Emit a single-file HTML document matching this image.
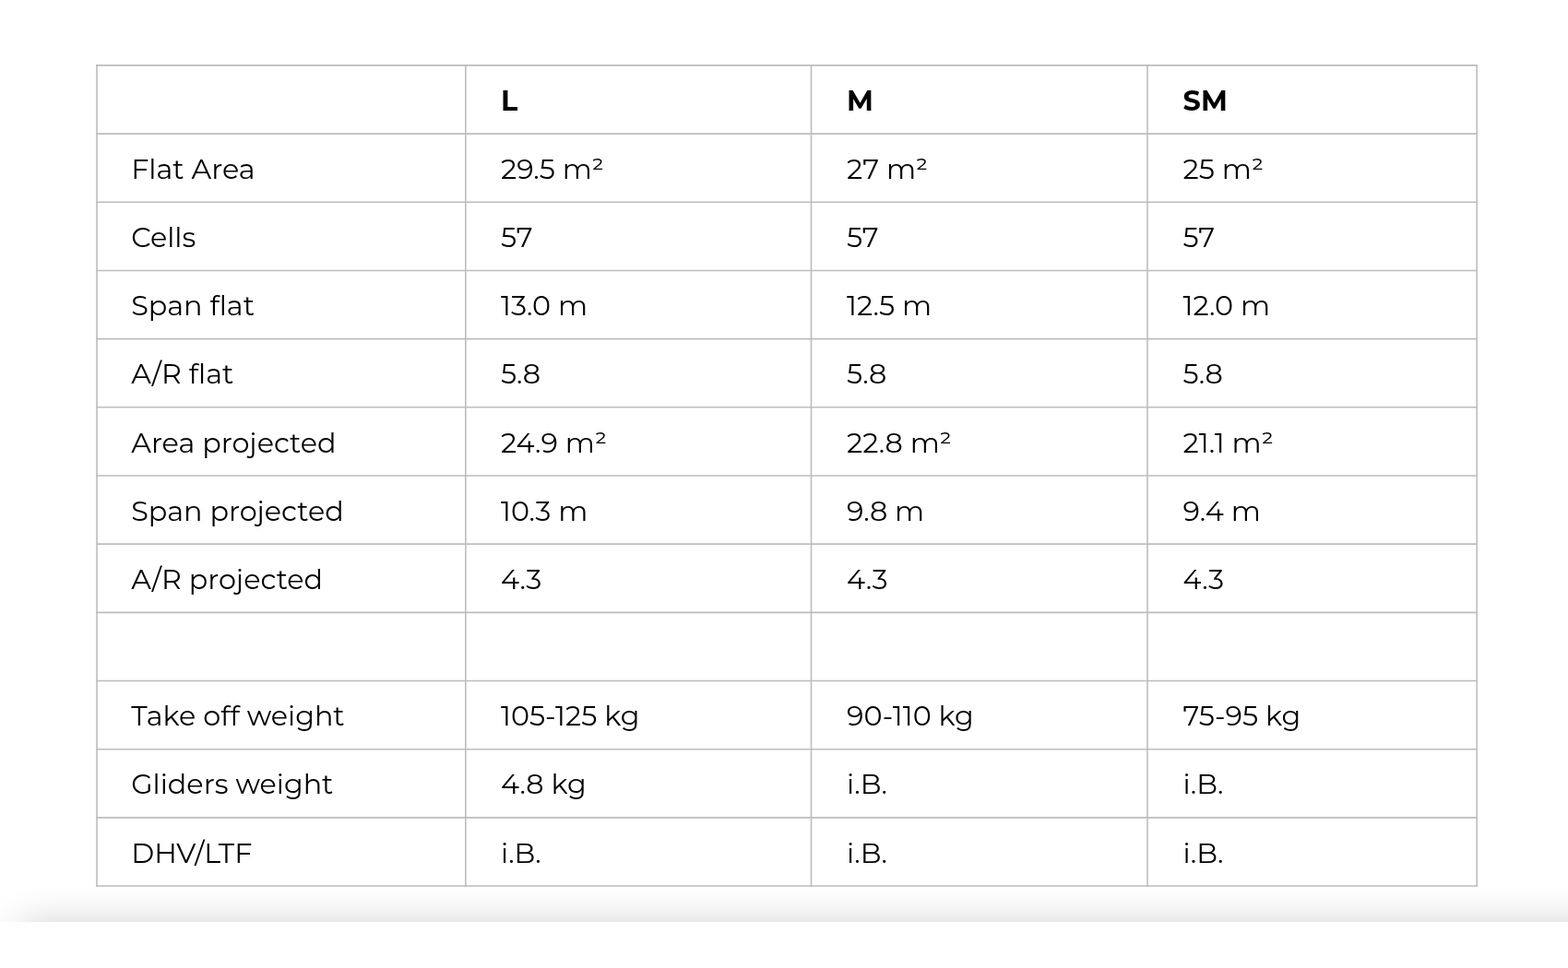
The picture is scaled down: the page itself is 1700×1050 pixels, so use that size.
<!DOCTYPE html>
<html lang="en"><head><meta charset="utf-8"><title>Glider sizes</title>
<style>
html,body{margin:0;padding:0;background:#fff;}
body{width:1700px;height:1050px;position:relative;overflow:hidden;font-family:"Montserrat","DejaVu Sans","Liberation Sans",sans-serif;}
.grid{position:absolute;left:0;top:0;}
.grid line{stroke:#bdbdbd;stroke-width:1.6;}
.d,.h{position:absolute;white-space:pre;font-size:30.25px;line-height:0;color:#000;transform-origin:0 0;font-weight:400;}
.h{font-weight:700;color:#000;}
#c0_1{left:543.0px;top:109.6px}
#c0_2{left:918.1px;top:109.6px}
#c0_3{left:1282.6px;top:109.6px}
#c1_0{left:142.2px;top:183.78px}
#c1_1{left:543.0px;top:183.78px}
#c1_2{left:918.1px;top:183.78px}
#c1_3{left:1282.6px;top:183.78px}
#c2_0{left:142.2px;top:257.96px}
#c2_1{left:543.0px;top:257.96px}
#c2_2{left:918.1px;top:257.96px}
#c2_3{left:1282.6px;top:257.96px}
#c3_0{left:142.2px;top:332.14px}
#c3_1{left:543.0px;top:332.14px}
#c3_2{left:918.1px;top:332.14px}
#c3_3{left:1282.6px;top:332.14px}
#c4_0{left:142.2px;top:406.32px}
#c4_1{left:543.0px;top:406.32px}
#c4_2{left:918.1px;top:406.32px}
#c4_3{left:1282.6px;top:406.32px}
#c5_0{left:142.2px;top:480.5px}
#c5_1{left:543.0px;top:480.5px}
#c5_2{left:918.1px;top:480.5px}
#c5_3{left:1282.6px;top:480.5px}
#c6_0{left:142.2px;top:554.68px}
#c6_1{left:543.0px;top:554.68px}
#c6_2{left:918.1px;top:554.68px}
#c6_3{left:1282.6px;top:554.68px}
#c7_0{left:142.2px;top:628.86px}
#c7_1{left:543.0px;top:628.86px}
#c7_2{left:918.1px;top:628.86px}
#c7_3{left:1282.6px;top:628.86px}
#c9_0{left:142.2px;top:777.22px}
#c9_1{left:543.0px;top:777.22px}
#c9_2{left:918.1px;top:777.22px}
#c9_3{left:1282.6px;top:777.22px}
#c10_0{left:142.2px;top:851.4px}
#c10_1{left:543.0px;top:851.4px}
#c10_2{left:918.1px;top:851.4px}
#c10_3{left:1282.6px;top:851.4px}
#c11_0{left:142.2px;top:925.58px}
#c11_1{left:543.0px;top:925.58px}
#c11_2{left:918.1px;top:925.58px}
#c11_3{left:1282.6px;top:925.58px}
.fb .d,.fb .h{font-family:"DejaVu Sans","Liberation Sans",sans-serif;font-size:29.5px;color:#111;}
.fb .d{-webkit-text-stroke:0.4px #fff;}
.fb .h{font-weight:bold;color:#000;-webkit-text-stroke:0.5px #fff;}
.fb .n{font-family:"Liberation Sans",sans-serif;font-size:30.5px;}
.fb #c0_1{left:542.4px;top:109.6px;transform:scaleX(1.0685)}
.fb #c0_2{left:917.1px;top:109.6px;transform:scaleX(1.0438)}
.fb #c0_3{left:1281.6px;top:109.6px;transform:scaleX(0.9788)}
.fb #c1_0{left:142.6px;top:183.78px;transform:scaleX(1.0236)}
.fb #c1_1{left:542.4px;top:182.78px;transform:scaleX(1.0933)}
.fb #c1_2{left:916.3px;top:182.78px;transform:scaleX(1.1378)}
.fb #c1_3{left:1280.9px;top:182.78px;transform:scaleX(1.1311)}
.fb #c2_0{left:141.6px;top:257.96px;transform:scaleX(1.0448)}
.fb #c2_1{left:542.4px;top:256.96px;transform:scaleX(1.074)}
.fb #c2_2{left:916.3px;top:256.96px;transform:scaleX(1.0783)}
.fb #c2_3{left:1280.9px;top:256.96px;transform:scaleX(1.0769)}
.fb #c3_0{left:141.6px;top:332.14px;transform:scaleX(1.0154)}
.fb #c3_1{left:542.4px;top:331.14px;transform:scaleX(1.0233)}
.fb #c3_2{left:917.2px;top:331.14px;transform:scaleX(0.9878)}
.fb #c3_3{left:1281.9px;top:331.14px;transform:scaleX(1.0247)}
.fb #c4_0{left:142.6px;top:406.32px;transform:scaleX(1.028)}
.fb #c4_1{left:542.4px;top:405.32px;transform:scaleX(1.0413)}
.fb #c4_2{left:916.9px;top:405.32px;transform:scaleX(1.0313)}
.fb #c4_3{left:1281.8px;top:405.32px;transform:scaleX(1.0472)}
.fb #c5_0{left:141.6px;top:480.5px;transform:scaleX(1.0327)}
.fb #c5_1{left:542.4px;top:479.5px;transform:scaleX(1.1136)}
.fb #c5_2{left:916.3px;top:479.5px;transform:scaleX(1.1082)}
.fb #c5_3{left:1281.8px;top:479.5px;transform:scaleX(0.9482)}
.fb #c6_0{left:141.6px;top:554.68px;transform:scaleX(1.0456)}
.fb #c6_1{left:543.4px;top:553.68px;transform:scaleX(1.0118)}
.fb #c6_2{left:916.9px;top:553.68px;transform:scaleX(1.1004)}
.fb #c6_3{left:1281.6px;top:553.68px;transform:scaleX(1.1117)}
.fb #c7_0{left:141.6px;top:628.86px;transform:scaleX(1.0511)}
.fb #c7_1{left:543.6px;top:627.86px;transform:scaleX(1.0454)}
.fb #c7_2{left:918.1px;top:627.86px;transform:scaleX(1.0568)}
.fb #c7_3{left:1282.6px;top:627.86px;transform:scaleX(1.0555)}
.fb #c9_0{left:143.6px;top:777.22px;transform:scaleX(1.0405)}
.fb #c9_1{left:542.4px;top:776.22px;transform:scaleX(0.9919)}
.fb #c9_2{left:916.3px;top:776.22px;transform:scaleX(1.0438)}
.fb #c9_3{left:1281.8px;top:776.22px;transform:scaleX(1.0862)}
.fb #c10_0{left:141.6px;top:851.4px;transform:scaleX(1.0332)}
.fb #c10_1{left:543.6px;top:850.4px;transform:scaleX(1.1242)}
.fb #c10_2{left:918.1px;top:850.4px;transform:scaleX(1.0256)}
.fb #c10_3{left:1282.6px;top:850.4px;transform:scaleX(1.0256)}
.fb #c11_0{left:141.6px;top:925.58px;transform:scaleX(1.0847)}
.fb #c11_1{left:543.2px;top:924.58px;transform:scaleX(1.0312)}
.fb #c11_2{left:918.1px;top:924.58px;transform:scaleX(1.0256)}
.fb #c11_3{left:1282.6px;top:924.58px;transform:scaleX(1.0256)}
.clip{position:absolute;left:0;top:900px;width:1700px;height:100px;overflow:hidden;}
.shade{position:absolute;left:22px;top:100px;width:2000px;height:120px;background:#fff;box-shadow:0 0 40px 0px rgba(0,0,0,0.18);}
</style></head><body>
<svg class="grid" width="1700" height="1050" viewBox="0 0 1700 1050">
<line x1="105.0" y1="70.1" x2="105.0" y2="961.86"/>
<line x1="504.8" y1="70.1" x2="504.8" y2="961.86"/>
<line x1="879.5" y1="70.1" x2="879.5" y2="961.86"/>
<line x1="1244.0" y1="70.1" x2="1244.0" y2="961.86"/>
<line x1="1601.2" y1="70.1" x2="1601.2" y2="961.86"/>
<line x1="104.2" y1="70.9" x2="1602.0" y2="70.9"/>
<line x1="104.2" y1="145.08" x2="1602.0" y2="145.08"/>
<line x1="104.2" y1="219.26" x2="1602.0" y2="219.26"/>
<line x1="104.2" y1="293.44" x2="1602.0" y2="293.44"/>
<line x1="104.2" y1="367.62" x2="1602.0" y2="367.62"/>
<line x1="104.2" y1="441.8" x2="1602.0" y2="441.8"/>
<line x1="104.2" y1="515.98" x2="1602.0" y2="515.98"/>
<line x1="104.2" y1="590.16" x2="1602.0" y2="590.16"/>
<line x1="104.2" y1="664.34" x2="1602.0" y2="664.34"/>
<line x1="104.2" y1="738.52" x2="1602.0" y2="738.52"/>
<line x1="104.2" y1="812.7" x2="1602.0" y2="812.7"/>
<line x1="104.2" y1="886.88" x2="1602.0" y2="886.88"/>
<line x1="104.2" y1="961.06" x2="1602.0" y2="961.06"/>
</svg>
<div id="c0_1" class="h">L</div>
<div id="c0_2" class="h">M</div>
<div id="c0_3" class="h">SM</div>
<div id="c1_0" class="d">Flat Area</div>
<div id="c1_1" class="d n">29.5 m²</div>
<div id="c1_2" class="d n">27 m²</div>
<div id="c1_3" class="d n">25 m²</div>
<div id="c2_0" class="d">Cells</div>
<div id="c2_1" class="d n">57</div>
<div id="c2_2" class="d n">57</div>
<div id="c2_3" class="d n">57</div>
<div id="c3_0" class="d">Span flat</div>
<div id="c3_1" class="d n">13.0 m</div>
<div id="c3_2" class="d n">12.5 m</div>
<div id="c3_3" class="d n">12.0 m</div>
<div id="c4_0" class="d">A/R flat</div>
<div id="c4_1" class="d n">5.8</div>
<div id="c4_2" class="d n">5.8</div>
<div id="c4_3" class="d n">5.8</div>
<div id="c5_0" class="d">Area projected</div>
<div id="c5_1" class="d n">24.9 m²</div>
<div id="c5_2" class="d n">22.8 m²</div>
<div id="c5_3" class="d n">21.1 m²</div>
<div id="c6_0" class="d">Span projected</div>
<div id="c6_1" class="d n">10.3 m</div>
<div id="c6_2" class="d n">9.8 m</div>
<div id="c6_3" class="d n">9.4 m</div>
<div id="c7_0" class="d">A/R projected</div>
<div id="c7_1" class="d n">4.3</div>
<div id="c7_2" class="d n">4.3</div>
<div id="c7_3" class="d n">4.3</div>
<div id="c9_0" class="d">Take off weight</div>
<div id="c9_1" class="d n">105-125 kg</div>
<div id="c9_2" class="d n">90-110 kg</div>
<div id="c9_3" class="d n">75-95 kg</div>
<div id="c10_0" class="d">Gliders weight</div>
<div id="c10_1" class="d n">4.8 kg</div>
<div id="c10_2" class="d n">i.B.</div>
<div id="c10_3" class="d n">i.B.</div>
<div id="c11_0" class="d">DHV/LTF</div>
<div id="c11_1" class="d n">i.B.</div>
<div id="c11_2" class="d n">i.B.</div>
<div id="c11_3" class="d n">i.B.</div>
<div class="clip"><div class="shade"></div></div>
<script>
(function(){try{var x=document.createElement("canvas").getContext("2d"),s="Flat Area 105-125 kg",a,b;
x.font="30px monospace";a=x.measureText(s).width;x.font="30px Montserrat, monospace";b=x.measureText(s).width;
if(Math.abs(a-b)<0.01)document.body.classList.add("fb");}catch(e){}})();
</script>
</body></html>
